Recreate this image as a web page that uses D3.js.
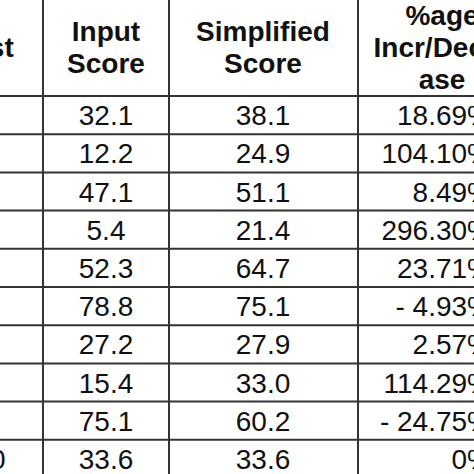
<!DOCTYPE html>
<html lang="en">
<head>
<meta charset="UTF-8">
<title>Scores</title>
<style>
  body { margin: 0; background: #fff; overflow: hidden; }
  text { font-family: "Liberation Sans", Arial, sans-serif; fill: #111; }
</style>
</head>
<body>
<script src="https://d3js.org/d3.v7.min.js"></script>
<script>

  // table data
  var tests = ["1", "2", "3", "4", "5", "6", "7", "8", "9", "10"];
  var inputScore = ["32.1", "12.2", "47.1", "5.4", "52.3", "78.8", "27.2", "15.4", "75.1", "33.6"];
  var simplifiedScore = ["38.1", "24.9", "51.1", "21.4", "64.7", "75.1", "27.9", "33.0", "60.2", "33.6"];
  var change = ["18.69%", "104.10%", "8.49%", "296.30%", "23.71%", "- 4.93%", "2.57%", "114.29%", "- 24.75%", "0%"];
  var headers = [["Test"], ["Input", "Score"], ["Simplified", "Score"], ["%age", "Incr/Decre", "ase"]];

  var W = 474, H = 474;
  var headerH = 96, rowH = 38.2;
  // inner column rules (table is cropped on both sides)
  var colRules = [43, 169, 358];

  var svg = d3.select("body").append("svg")
      .attr("width", W).attr("height", H);

  var y = d3.scaleBand()
      .domain(d3.range(tests.length))
      .range([headerH, headerH + rowH * tests.length]);

  var grid = svg.append("g")
      .attr("stroke", "#333").attr("stroke-width", 2);

  // horizontal rules
  grid.selectAll(".h")
      .data([headerH].concat(d3.range(tests.length).map(function(i) { return y(i) + rowH; })))
      .enter().append("line")
      .attr("x1", 0).attr("x2", W)
      .attr("y1", function(d) { return d; }).attr("y2", function(d) { return d; });

  // vertical rules
  grid.selectAll(".v")
      .data(colRules)
      .enter().append("line")
      .attr("x1", function(d) { return d; }).attr("x2", function(d) { return d; })
      .attr("y1", 0).attr("y2", H);

  // headers
  var headAnchor = [-14, 106, 263, 442];
  headers.forEach(function(lines, c) {
    var lh = 32;
    var first = headerH / 2 - (lines.length - 1) * lh / 2 + 9;
    lines.forEach(function(t, k) {
      svg.append("text")
          .attr("x", headAnchor[c]).attr("y", first + k * lh)
          .attr("text-anchor", "middle")
          .attr("font-weight", "bold").attr("font-size", 28)
          .text(t);
    });
  });

  // body cells
  var cols = [
    {vals: tests, x: -10, anchor: "middle"},
    {vals: inputScore, x: 106, anchor: "middle"},
    {vals: simplifiedScore, x: 263, anchor: "middle"},
    {vals: change, x: 492, anchor: "end"}
  ];
  cols.forEach(function(col) {
    svg.selectAll(null)
        .data(col.vals)
        .enter().append("text")
        .attr("x", col.x)
        .attr("y", function(d, i) { return y(i) + rowH / 2 + 10; })
        .attr("text-anchor", col.anchor)
        .attr("font-size", 28)
        .text(function(d) { return d; });
  });

</script>
</body>
</html>
